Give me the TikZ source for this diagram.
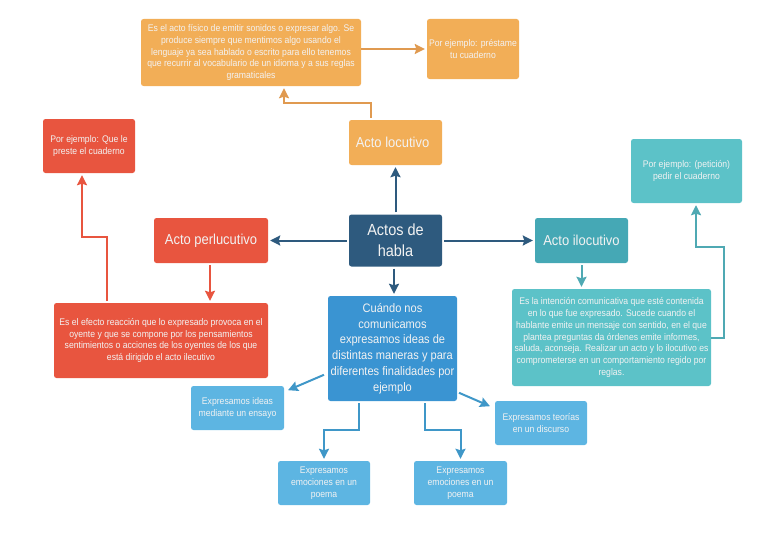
\documentclass[tikz,border=0pt]{standalone}
\usepackage{fontspec}
\setmainfont[FakeStretch=0.9]{Liberation Sans}
\usetikzlibrary{arrows.meta,calc}
\definecolor{cOrange}{HTML}{F2AE57}
\definecolor{cOrangeL}{HTML}{E09A50}
\definecolor{cRed}{HTML}{E8553F}
\definecolor{cTeal}{HTML}{5CC2C8}
\definecolor{cTealD}{HTML}{45A8B5}
\definecolor{cTealL}{HTML}{4FA9B3}
\definecolor{cNavy}{HTML}{2E5A7E}
\definecolor{cBlue}{HTML}{3A94D2}
\definecolor{cBlueL}{HTML}{5DB5E2}
\definecolor{cBlueA}{HTML}{3F97C8}
\tikzset{
  box/.style={rounded corners=2.5pt, inner sep=0pt, align=center, text=white!90!gray},
  small/.style={box, font=\fontsize{9.6}{11.7}\selectfont},
  title/.style={box, font=\fontsize{14.4}{16}\selectfont},
  arr/.style={draw=#1, line width=2pt, -{Stealth[length=10pt,width=10pt,inset=1.5pt]}, shorten >=2pt, shorten <=2pt},
}
\begin{document}
\begin{tikzpicture}[x=1pt,y=-1pt]
\useasboundingbox (0,0) rectangle (768,543);
\node[small,fill=cOrange,minimum width=220pt,minimum height=67pt] (olong) at (251,52.5) {Es el acto físico de emitir sonidos o expresar algo. Se\\produce siempre que mentimos algo usando el\\lenguaje ya sea hablado o escrito para ello tenemos\\que recurrir al vocabulario de un idioma y a sus reglas\\gramaticales};
\node[small,fill=cOrange,minimum width=92pt,minimum height=60pt] (oex) at (473,49) {Por ejemplo: préstame\\tu cuaderno};
\node[title,fill=cOrange,minimum width=93pt,minimum height=45pt] (loc) at (395.5,142.5) {\hspace*{-6pt}Acto locutivo};
\node[small,fill=cRed,minimum width=92pt,minimum height=54pt] (redex) at (89,146) {Por ejemplo: Que le\\preste el cuaderno};
\node[title,fill=cRed,minimum width=114pt,minimum height=45pt] (perl) at (211,240.5) {Acto perlucutivo};
\node[small,fill=cRed,minimum width=214pt,minimum height=75pt] (reddesc) at (161,340.5) {Es el efecto reacción que lo expresado provoca en el\\oyente y que se compone por los pensamientos\\sentimientos o acciones de los oyentes de los que\\está dirigido el acto ilecutivo};
\node[small,fill=cTeal,minimum width=111pt,minimum height=64pt] (tealex) at (686.5,171) {Por ejemplo: (petición)\\pedir el cuaderno};
\node[title,fill=cTealD,minimum width=93pt,minimum height=45pt] (ilo) at (581.5,240.5) {Acto ilocutivo};
\node[small,fill=cTeal,minimum width=199pt,minimum height=97pt] (tealdesc) at (611.5,337.5) {Es la intención comunicativa que esté contenida\\en lo que fue expresado. Sucede cuando el\\hablante emite un mensaje con sentido, en el que\\plantea preguntas da órdenes emite informes,\\saluda, aconseja. Realizar un acto y lo ilocutivo es\\comprometerse en un comportamiento regido por\\reglas.};
\node[box,fill=cNavy,font=\fontsize{16.1}{21}\selectfont,minimum width=93pt,minimum height=52pt] (actos) at (395.5,240.5) {Actos de\\habla};
\node[box,fill=cBlue,font=\fontsize{12.3}{15.7}\selectfont,minimum width=129pt,minimum height=105pt] (main) at (392.5,348.5) {Cuándo nos\\comunicamos\\expresamos ideas de\\distintas maneras y para\\diferentes finalidades por\\ejemplo};
\node[small,fill=cBlueL,minimum width=93pt,minimum height=44pt] (ensayo) at (237.5,408) {Expresamos ideas\\mediante un ensayo};
\node[small,fill=cBlueL,minimum width=92pt,minimum height=44pt] (teorias) at (541,423) {Expresamos teorías\\en un discurso};
\node[small,fill=cBlueL,minimum width=92pt,minimum height=44pt] (pa) at (324,483) {Expresamos\\emociones en un\\poema};
\node[small,fill=cBlueL,minimum width=93pt,minimum height=44pt] (pb) at (460.5,483) {Expresamos\\emociones en un\\poema};
% connectors
\draw[arr=cOrangeL] ([xshift=-24.5pt]loc.north) -- ++(0,-17) -| ([xshift=33pt]olong.south);
\draw[arr=cOrangeL,shorten <=0pt] ([yshift=3.5pt]olong.east) -- (oex.west |- 0,49);
\draw[arr=cNavy] (actos.north) -- (loc.south);
\draw[arr=cNavy] (actos.west) -- (perl.east);
\draw[arr=cNavy] (actos.east) -- (ilo.west);
\draw[arr=cNavy] ([xshift=-1.5pt]actos.south) -- ([xshift=1.5pt]main.north);
\draw[arr=cRed] ([xshift=-1pt]perl.south) -- ([xshift=49pt]reddesc.north);
\draw[arr=cRed] ([xshift=-54pt]reddesc.north) -- ++(0,-66) -| ([xshift=-7pt]redex.south);
\draw[arr=cTealL] (ilo.south) -- ([xshift=-30pt]tealdesc.north);
\draw[arr=cTealL,shorten <=0pt] (tealdesc.east) -- ++(13,0) -- ++(0,-91) -| ([xshift=9.5pt]tealex.south);
\draw[arr=cBlueA] ([xshift=-2pt,yshift=-25.5pt]main.west) -- ([xshift=2pt,yshift=17pt]ensayo.east);
\draw[arr=cBlueA] ([yshift=-43.5pt]main.east) -- ([xshift=-3pt,yshift=16pt]teorias.west);
\draw[arr=cBlueA] ([xshift=-33.5pt]main.south) -- ++(0,29) -| (pa.north);
\draw[arr=cBlueA] ([xshift=32.5pt]main.south) -- ++(0,29) -| (pb.north);
\end{tikzpicture}
\end{document}
